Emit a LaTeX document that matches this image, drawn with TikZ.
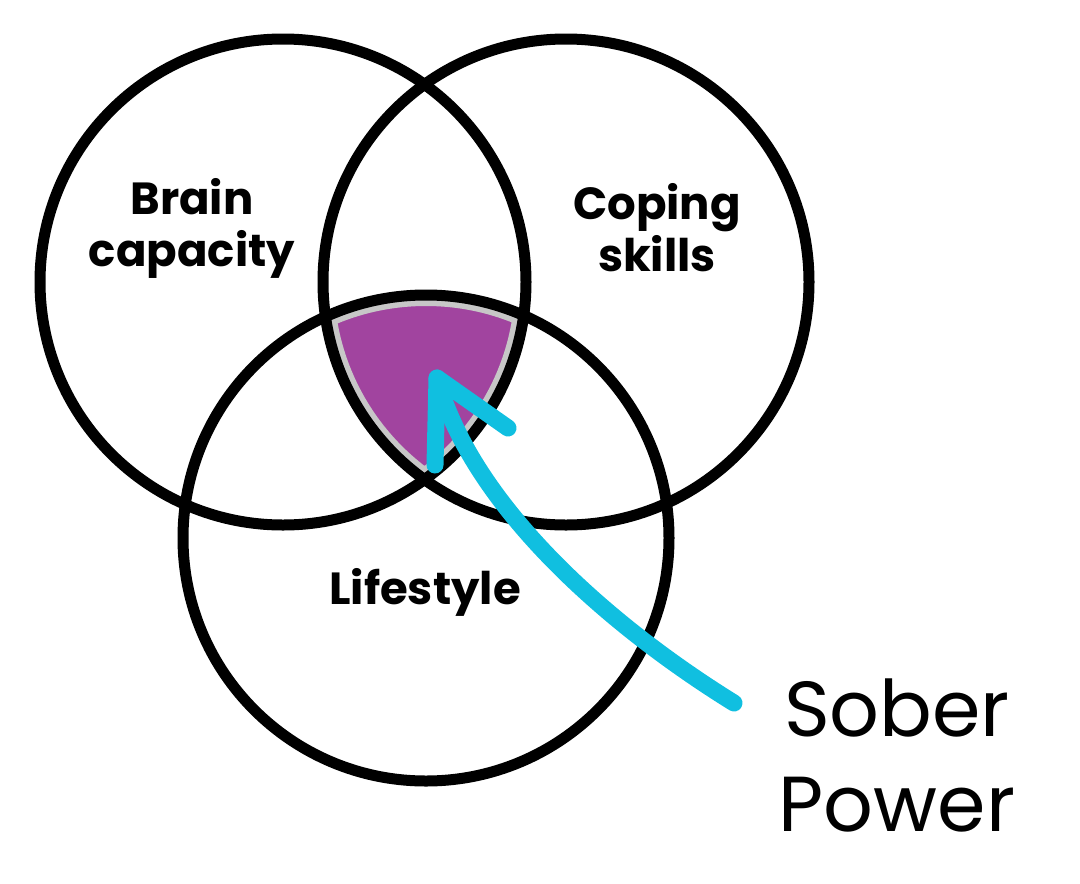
\documentclass[tikz,border=0pt]{standalone}
\usepackage{fontspec}
\setmainfont{Poppins}
\definecolor{purp}{HTML}{A1449F}
\definecolor{cyanA}{HTML}{10BFE0}
\tikzset{ring/.style={draw=black,line width=11pt},
lab/.style={font=\fontsize{45pt}{52pt}\selectfont\bfseries,align=center},
arr/.style={draw=cyanA,line width=17pt,line cap=round,line join=round}}
\begin{document}
\begin{tikzpicture}[x=1pt,y=-1pt]
\useasboundingbox (0,0) rectangle (1080,884);
\coordinate (A) at (283,282);
\coordinate (B) at (566,282);
\coordinate (C) at (426,538);
\begin{scope}
\clip (A) circle (243);
\clip (B) circle (243);
\clip (C) circle (243);
\fill[purp] (C) circle (243);
\draw[black!22,line width=22pt] (A) circle (243) (B) circle (243) (C) circle (243);
\end{scope}
\draw[ring] (A) circle (243);
\draw[ring] (B) circle (243);
\draw[ring] (C) circle (243);
\node[lab] (brain) at (192,228) {Brain\\capacity};
\node[lab] (coping) at (657,228) {Coping\\skills};
\node[lab] (life) at (425,592) {Lifestyle};
\node[font=\fontsize{78pt}{95pt}\selectfont,align=center] (sober) at (897,755) {Sober\\Power};
\coordinate (tail) at (734,703);
\coordinate (tip) at (437,378);
\coordinate (shaft) at (435,465);
\coordinate (barb) at (508,428);
\draw[arr] (tail) .. controls (600,620) and (470,500) .. (tip);
\draw[arr] (shaft) -- (tip) -- (barb);
\end{tikzpicture}
\end{document}
